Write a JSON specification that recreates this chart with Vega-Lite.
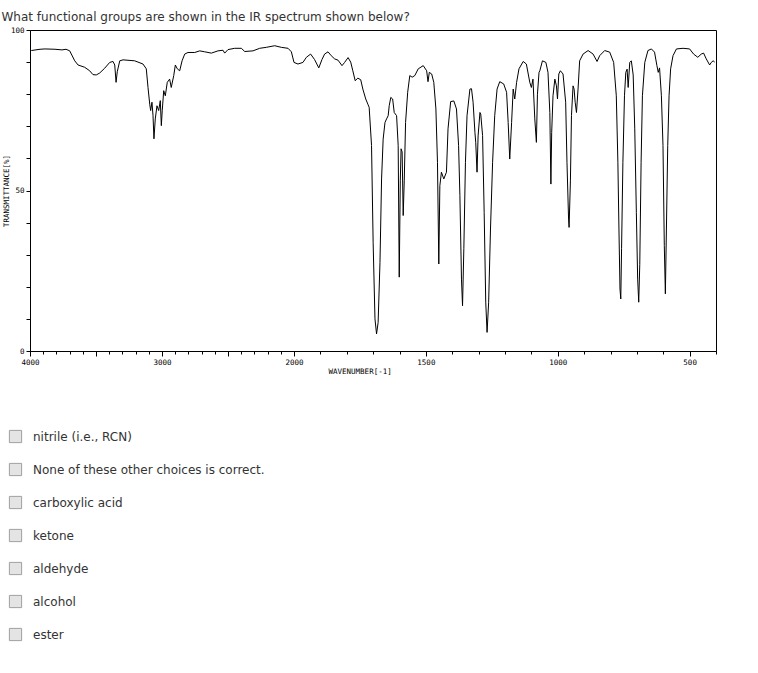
{
  "$schema": "https://vega.github.io/schema/vega-lite/v6.json",
  "padding": {"left": 1, "top": 10, "right": 5, "bottom": 5},
  "background": "white",
  "title": {"text": "What functional groups are shown in the IR spectrum shown below?", "anchor": "start", "frame": "bounds", "font": "DejaVu Sans", "fontSize": 12, "fontWeight": "normal", "color": "#333333", "offset": 2},
  "spacing": 45,
  "config": {"axis": {"grid": false}},
  "vconcat": [
    {
      "width": 686,
      "height": 321,
      "view": {"stroke": "black", "strokeWidth": 1},
      "data": {"values": [
        {"wn": 3990, "t": 93.6}, {"wn": 3924, "t": 94.0}, {"wn": 3886, "t": 94.1}, {"wn": 3811, "t": 94.0}, {"wn": 3758, "t": 93.8}, {"wn": 3727, "t": 94.0},
        {"wn": 3699, "t": 93.5}, {"wn": 3661, "t": 90.4}, {"wn": 3636, "t": 89.1}, {"wn": 3586, "t": 88.4}, {"wn": 3548, "t": 87.3}, {"wn": 3523, "t": 86.1},
        {"wn": 3498, "t": 86.0}, {"wn": 3472, "t": 86.6}, {"wn": 3434, "t": 88.1}, {"wn": 3396, "t": 89.9}, {"wn": 3371, "t": 90.2}, {"wn": 3358, "t": 89.1},
        {"wn": 3348, "t": 83.7}, {"wn": 3339, "t": 87.0}, {"wn": 3320, "t": 90.4}, {"wn": 3295, "t": 90.7}, {"wn": 3207, "t": 90.4}, {"wn": 3144, "t": 89.4},
        {"wn": 3119, "t": 87.9}, {"wn": 3106, "t": 82.1}, {"wn": 3093, "t": 76.9}, {"wn": 3086, "t": 74.9}, {"wn": 3076, "t": 77.5}, {"wn": 3068, "t": 73.3},
        {"wn": 3061, "t": 66.1}, {"wn": 3051, "t": 72.3}, {"wn": 3038, "t": 76.4}, {"wn": 3025, "t": 74.9}, {"wn": 3013, "t": 78.0}, {"wn": 3005, "t": 70.2},
        {"wn": 2998, "t": 75.0}, {"wn": 2987, "t": 81.1}, {"wn": 2975, "t": 79.5}, {"wn": 2960, "t": 83.7}, {"wn": 2942, "t": 84.7}, {"wn": 2930, "t": 82.1},
        {"wn": 2911, "t": 85.8}, {"wn": 2899, "t": 89.1}, {"wn": 2884, "t": 87.9}, {"wn": 2866, "t": 87.3}, {"wn": 2848, "t": 90.4}, {"wn": 2828, "t": 92.5},
        {"wn": 2803, "t": 93.0}, {"wn": 2752, "t": 93.0}, {"wn": 2714, "t": 93.5}, {"wn": 2676, "t": 93.2}, {"wn": 2626, "t": 92.8}, {"wn": 2576, "t": 93.5},
        {"wn": 2538, "t": 93.7}, {"wn": 2525, "t": 92.8}, {"wn": 2500, "t": 93.9}, {"wn": 2449, "t": 94.3}, {"wn": 2399, "t": 94.3}, {"wn": 2373, "t": 93.3},
        {"wn": 2311, "t": 93.5}, {"wn": 2260, "t": 94.3}, {"wn": 2210, "t": 94.6}, {"wn": 2146, "t": 95.1}, {"wn": 2096, "t": 94.6}, {"wn": 2045, "t": 94.3},
        {"wn": 2020, "t": 93.2}, {"wn": 2000, "t": 89.9}, {"wn": 1985, "t": 89.4}, {"wn": 1966, "t": 89.9}, {"wn": 1953, "t": 91.5}, {"wn": 1937, "t": 92.5},
        {"wn": 1922, "t": 90.8}, {"wn": 1906, "t": 88.2}, {"wn": 1894, "t": 90.8}, {"wn": 1884, "t": 92.5}, {"wn": 1871, "t": 93.2}, {"wn": 1859, "t": 92.0},
        {"wn": 1846, "t": 91.0}, {"wn": 1833, "t": 90.6}, {"wn": 1818, "t": 88.9}, {"wn": 1808, "t": 89.9}, {"wn": 1795, "t": 91.4}, {"wn": 1785, "t": 90.0},
        {"wn": 1777, "t": 87.3}, {"wn": 1768, "t": 84.2}, {"wn": 1758, "t": 85.0}, {"wn": 1747, "t": 84.5}, {"wn": 1739, "t": 81.6}, {"wn": 1728, "t": 78.5},
        {"wn": 1720, "t": 76.9}, {"wn": 1715, "t": 75.9}, {"wn": 1706, "t": 64.0}, {"wn": 1700, "t": 33.9}, {"wn": 1693, "t": 10.0}, {"wn": 1687, "t": 5.3},
        {"wn": 1681, "t": 8.9}, {"wn": 1674, "t": 27.6}, {"wn": 1668, "t": 53.6}, {"wn": 1662, "t": 66.0}, {"wn": 1655, "t": 71.2}, {"wn": 1649, "t": 72.3},
        {"wn": 1643, "t": 73.3}, {"wn": 1639, "t": 76.4}, {"wn": 1633, "t": 79.0}, {"wn": 1626, "t": 78.5}, {"wn": 1620, "t": 74.3}, {"wn": 1611, "t": 73.3},
        {"wn": 1605, "t": 64.0}, {"wn": 1601, "t": 23.0}, {"wn": 1597, "t": 53.0}, {"wn": 1594, "t": 63.0}, {"wn": 1590, "t": 62.0}, {"wn": 1586, "t": 42.2},
        {"wn": 1582, "t": 53.0}, {"wn": 1577, "t": 71.2}, {"wn": 1569, "t": 80.6}, {"wn": 1561, "t": 85.8}, {"wn": 1552, "t": 85.3}, {"wn": 1542, "t": 85.8},
        {"wn": 1529, "t": 87.9}, {"wn": 1510, "t": 88.9}, {"wn": 1497, "t": 87.3}, {"wn": 1492, "t": 83.9}, {"wn": 1487, "t": 86.8}, {"wn": 1478, "t": 86.3},
        {"wn": 1470, "t": 83.7}, {"wn": 1462, "t": 75.4}, {"wn": 1456, "t": 58.8}, {"wn": 1451, "t": 27.1}, {"wn": 1447, "t": 51.5}, {"wn": 1441, "t": 55.7},
        {"wn": 1432, "t": 53.6}, {"wn": 1422, "t": 55.7}, {"wn": 1416, "t": 69.2}, {"wn": 1406, "t": 77.7}, {"wn": 1394, "t": 77.9}, {"wn": 1384, "t": 75.4},
        {"wn": 1376, "t": 64.0}, {"wn": 1371, "t": 48.4}, {"wn": 1365, "t": 22.4}, {"wn": 1361, "t": 14.1}, {"wn": 1356, "t": 32.0}, {"wn": 1350, "t": 58.8},
        {"wn": 1344, "t": 73.3}, {"wn": 1333, "t": 81.6}, {"wn": 1327, "t": 81.7}, {"wn": 1321, "t": 77.5}, {"wn": 1314, "t": 68.1}, {"wn": 1311, "t": 65.0},
        {"wn": 1306, "t": 55.7}, {"wn": 1302, "t": 67.0}, {"wn": 1295, "t": 74.3}, {"wn": 1292, "t": 73.8}, {"wn": 1285, "t": 67.1}, {"wn": 1279, "t": 43.2},
        {"wn": 1273, "t": 15.2}, {"wn": 1268, "t": 5.8}, {"wn": 1262, "t": 15.2}, {"wn": 1255, "t": 38.0}, {"wn": 1247, "t": 58.8}, {"wn": 1239, "t": 73.3},
        {"wn": 1230, "t": 81.6}, {"wn": 1220, "t": 83.9}, {"wn": 1205, "t": 83.2}, {"wn": 1194, "t": 80.6}, {"wn": 1188, "t": 71.2}, {"wn": 1182, "t": 59.8},
        {"wn": 1175, "t": 71.2}, {"wn": 1169, "t": 81.6}, {"wn": 1163, "t": 78.5}, {"wn": 1156, "t": 83.7}, {"wn": 1147, "t": 87.9}, {"wn": 1131, "t": 90.2},
        {"wn": 1119, "t": 89.4}, {"wn": 1106, "t": 83.7}, {"wn": 1100, "t": 82.1}, {"wn": 1094, "t": 84.7}, {"wn": 1087, "t": 72.3}, {"wn": 1081, "t": 65.0},
        {"wn": 1077, "t": 80.0}, {"wn": 1071, "t": 86.8}, {"wn": 1068, "t": 87.3}, {"wn": 1058, "t": 90.4}, {"wn": 1045, "t": 89.9}, {"wn": 1037, "t": 86.8},
        {"wn": 1030, "t": 74.3}, {"wn": 1026, "t": 52.0}, {"wn": 1023, "t": 68.0}, {"wn": 1018, "t": 79.5}, {"wn": 1011, "t": 84.7}, {"wn": 1005, "t": 82.6},
        {"wn": 1001, "t": 78.5}, {"wn": 996, "t": 86.3}, {"wn": 990, "t": 87.3}, {"wn": 980, "t": 86.3}, {"wn": 970, "t": 77.5}, {"wn": 965, "t": 58.8},
        {"wn": 959, "t": 41.1}, {"wn": 957, "t": 38.5}, {"wn": 952, "t": 53.0}, {"wn": 948, "t": 73.3}, {"wn": 942, "t": 82.6}, {"wn": 938, "t": 81.6},
        {"wn": 934, "t": 77.5}, {"wn": 929, "t": 74.3}, {"wn": 923, "t": 81.6}, {"wn": 917, "t": 90.4}, {"wn": 904, "t": 92.5}, {"wn": 885, "t": 93.6},
        {"wn": 866, "t": 92.5}, {"wn": 851, "t": 90.2}, {"wn": 841, "t": 92.0}, {"wn": 822, "t": 93.6}, {"wn": 803, "t": 93.1}, {"wn": 788, "t": 89.9},
        {"wn": 778, "t": 79.5}, {"wn": 772, "t": 58.8}, {"wn": 768, "t": 38.0}, {"wn": 764, "t": 19.3}, {"wn": 761, "t": 16.2}, {"wn": 758, "t": 32.0},
        {"wn": 753, "t": 58.8}, {"wn": 747, "t": 79.5}, {"wn": 742, "t": 86.8}, {"wn": 737, "t": 87.8}, {"wn": 733, "t": 82.1}, {"wn": 727, "t": 89.9},
        {"wn": 721, "t": 90.4}, {"wn": 714, "t": 86.0}, {"wn": 708, "t": 69.2}, {"wn": 702, "t": 43.2}, {"wn": 697, "t": 22.4}, {"wn": 693, "t": 15.2},
        {"wn": 689, "t": 27.0}, {"wn": 684, "t": 58.8}, {"wn": 679, "t": 79.5}, {"wn": 670, "t": 89.9}, {"wn": 658, "t": 93.6}, {"wn": 645, "t": 94.1},
        {"wn": 633, "t": 93.1}, {"wn": 624, "t": 88.9}, {"wn": 619, "t": 86.8}, {"wn": 614, "t": 88.2}, {"wn": 607, "t": 79.5}, {"wn": 601, "t": 64.0},
        {"wn": 596, "t": 32.8}, {"wn": 592, "t": 17.8}, {"wn": 588, "t": 38.0}, {"wn": 583, "t": 64.0}, {"wn": 578, "t": 79.5}, {"wn": 572, "t": 87.9},
        {"wn": 563, "t": 92.0}, {"wn": 550, "t": 94.1}, {"wn": 525, "t": 94.3}, {"wn": 500, "t": 94.1}, {"wn": 485, "t": 92.5}, {"wn": 469, "t": 91.5},
        {"wn": 456, "t": 92.5}, {"wn": 447, "t": 92.8}, {"wn": 437, "t": 91.0}, {"wn": 424, "t": 89.1}, {"wn": 418, "t": 89.9}, {"wn": 411, "t": 90.4},
        {"wn": 405, "t": 90.0}
      ]},
      "mark": {"type": "line", "color": "black", "strokeWidth": 1, "interpolate": "linear"},
      "encoding": {
        "x": {
          "field": "wn", "type": "quantitative",
          "scale": {"domain": [4000, 2000, 400], "range": [0, 264, 686], "nice": false, "zero": false},
          "axis": {
            "values": [4000, 3900, 3800, 3700, 3600, 3500, 3400, 3300, 3200, 3100, 3000, 2900, 2800, 2700, 2600, 2500, 2400, 2300, 2200, 2100, 2000, 1900, 1800, 1700, 1600, 1500, 1400, 1300, 1200, 1100, 1000, 900, 800, 700, 600, 500, 400],
            "labelExpr": "indexof([4000, 3000, 2000, 1500, 1000, 500], datum.value) >= 0 ? datum.label : ''",
            "format": "d",
            "labelFont": "DejaVu Sans Mono", "labelFontSize": 7.5, "labelColor": "black", "labelPadding": 2, "labelFlush": false, "labelOverlap": false,
            "tickColor": "black", "domainColor": "black",
            "tickSize": {"condition": {"test": "datum.value % 500 == 0", "value": 5}, "value": 3},
            "title": "WAVENUMBER[-1]", "titleFont": "DejaVu Sans Mono", "titleFontSize": 7.5, "titleFontWeight": "normal", "titleColor": "black",
            "titleAlign": "left", "titleX": 298, "titleY": 16, "titleBaseline": "top"
          }
        },
        "y": {
          "field": "t", "type": "quantitative",
          "scale": {"domain": [0, 100], "nice": false, "zero": false},
          "axis": {
            "values": [0, 10, 20, 30, 40, 50, 60, 70, 80, 90, 100],
            "labelExpr": "datum.value % 50 == 0 ? datum.label : ''",
            "labelFont": "DejaVu Sans Mono", "labelFontSize": 7.5, "labelColor": "black", "labelPadding": 2, "labelFlush": false, "labelOverlap": false,
            "tickColor": "black", "domainColor": "black", "tickSize": 4,
            "title": "TRANSMITTANCE[%]", "titleFont": "DejaVu Sans Mono", "titleFontSize": 7.5, "titleFontWeight": "normal", "titleColor": "black",
            "titleX": -20
          }
        }
      }
    },
    {
      "width": 300,
      "height": {"step": 33},
      "view": {"stroke": null},
      "data": {"values": [
        {"option": "nitrile (i.e., RCN)", "order": 1},
        {"option": "None of these other choices is correct.", "order": 2},
        {"option": "carboxylic acid", "order": 3},
        {"option": "ketone", "order": 4},
        {"option": "aldehyde", "order": 5},
        {"option": "alcohol", "order": 6},
        {"option": "ester", "order": 7}
      ]},
      "encoding": {
        "y": {"field": "option", "type": "ordinal", "sort": null, "axis": null},
        "x": {"datum": 0, "type": "quantitative", "scale": {"domain": [0, 1]}, "axis": null}
      },
      "layer": [
        {"mark": {"type": "square", "size": 150, "filled": true, "fill": "#e4e4e4", "stroke": "#a0a0a0", "strokeWidth": 1, "opacity": 1, "xOffset": -14.5}},
        {"mark": {"type": "text", "align": "left", "baseline": "middle", "dx": 3, "font": "DejaVu Sans", "fontSize": 12, "color": "#333333"},
         "encoding": {"text": {"field": "option"}}}
      ]
    }
  ]
}
